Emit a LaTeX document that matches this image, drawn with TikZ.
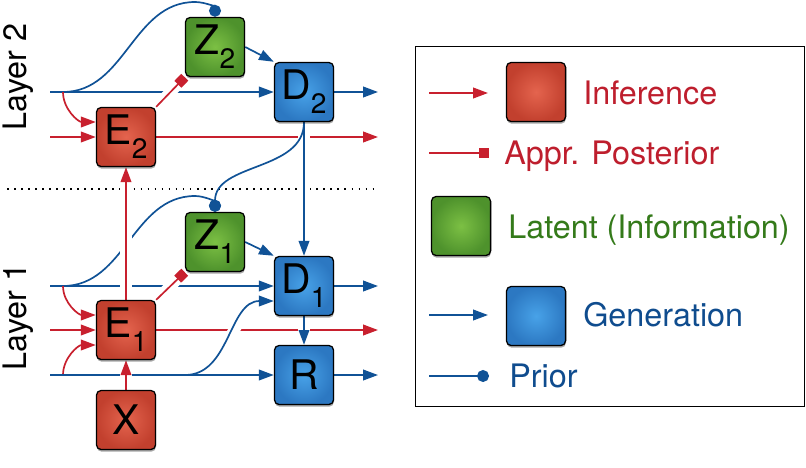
\documentclass[tikz,border=0pt]{standalone}
\usepackage{fontspec}
\setmainfont{TeX Gyre Heros}
\usepackage{xcolor}
\usepackage{tikz}
\usetikzlibrary{arrows.meta, shadows, backgrounds}

\definecolor{infred}{RGB}{200,32,46}
\definecolor{genblue}{RGB}{16,82,150}
\definecolor{infin}{RGB}{228,100,78}
\definecolor{infout}{RGB}{194,64,46}
\definecolor{latin}{RGB}{124,192,68}
\definecolor{latout}{RGB}{78,146,44}
\definecolor{genin}{RGB}{72,162,232}
\definecolor{genout}{RGB}{44,120,194}
\definecolor{inftext}{RGB}{190,30,45}
\definecolor{lattext}{RGB}{52,122,26}
\definecolor{gentext}{RGB}{15,76,142}

\newcommand{\lsub}[1]{\raisebox{-10pt}{\fontsize{20}{20}\selectfont #1}}

\begin{document}
\begin{tikzpicture}[
    x=0.025cm, y=0.025cm,
    font=\fontsize{23}{27}\selectfont,
    block/.style={rectangle, draw=black, line width=0.9pt, rounded corners=3.5pt,
        minimum size=1.48cm, inner sep=0pt, font=\fontsize{29}{32}\selectfont,
        drop shadow={shadow xshift=0.3pt, shadow yshift=-1.5pt, opacity=0.35, fill=black}},
    inf_block/.style={block, shading=radial, inner color=infin, outer color=infout},
    lat_block/.style={block, shading=radial, inner color=latin, outer color=latout},
    gen_block/.style={block, shading=radial, inner color=genin, outer color=genout},
    inf/.style={draw=infred, line width=1.2pt, -{Triangle[length=10.5pt, width=7.5pt]}},
    gen/.style={draw=genblue, line width=1.2pt, -{Triangle[length=10.5pt, width=7.5pt]}},
    post/.style={draw=infred, line width=1.2pt, -{Square[length=7pt]}},
    prior/.style={draw=genblue, line width=1.2pt, -{Circle[length=8.5pt]}},
    bridge/.style={preaction={draw=white, line width=8pt, -}},
    lbl/.style={anchor=base west, inner sep=0pt}
]
    \useasboundingbox (0,0) rectangle (806,-467);

    % --- 1. Layer 2 ---
    \node[lat_block] (Z2) at (215,-47) {Z\lsub{2}};
    \node[gen_block] (D2) at (304,-92) {D\lsub{2}};
    \node[inf_block] (E2) at (126,-137) {E\lsub{2}};

    % --- 2. Layer 1 ---
    \node[lat_block] (Z1) at (215,-242) {Z\lsub{1}};
    \node[gen_block] (D1) at (304,-286) {D\lsub{1}};
    \node[inf_block] (E1) at (126,-330) {E\lsub{1}};
    \node[gen_block] (R) at (304,-375) {R};
    \node[inf_block] (X) at (126,-420) {X};

    % --- 3. Layer names ---
    \node[rotate=90, anchor=base, inner sep=0pt] (layer2) at (26,-77) {Layer 2};
    \node[rotate=90, anchor=base, inner sep=0pt] (layer1) at (26,-317) {Layer 1};

    % --- 4. Free ends ---
    \coordinate (s2) at (50,-92);
    \coordinate (b2) at (63,-92);
    \coordinate (in2) at (50,-137);
    \coordinate (top2) at (195,-2);
    \coordinate (o2a) at (378,-92);
    \coordinate (o2b) at (378,-137);
    \coordinate (s1) at (50,-286);
    \coordinate (b1) at (63,-286);
    \coordinate (in1) at (50,-330);
    \coordinate (top1) at (195,-196);
    \coordinate (s0) at (50,-375);
    \coordinate (b0) at (63,-375);
    \coordinate (c0) at (185,-375);
    \coordinate (o1a) at (378,-286);
    \coordinate (o1b) at (378,-330);
    \coordinate (o0) at (378,-375);
    \coordinate (dl) at (7,-189);
    \coordinate (dr) at (375,-189);

    % --- 5. Connections ---
    \begin{scope}[on background layer]
        \draw[line width=1pt, dash pattern=on 1.2pt off 3.8pt] (dl) -- (dr);

        % layer 2
        \draw[gen] (s2) -- (D2.west);
        \draw[prior] (b2) to[out=0, in=180] (top2) to[out=0, in=90] (Z2.north);
        \draw[inf] (b2) to[out=-90, in=180] ([yshift=0.375cm]E2.west);
        \draw[inf] (in2) -- (E2.west);
        \draw[inf] (E2.east) -- (o2b);
        \draw[post, bridge] (E2.north east) -- (Z2.south west);
        \draw[gen] (Z2.east) -- (D2.north west);
        \draw[gen] (D2.east) -- (o2a);
        \draw[gen, bridge] (D2.south) -- (D1.north);
        \draw[prior] (D2.south) to[out=-90, in=90] (Z1.north);

        % layer 1
        \draw[gen] (s1) -- (D1.west);
        \draw[prior] (b1) to[out=0, in=180] (top1) to[out=0, in=90] (Z1.north);
        \draw[inf] (b1) to[out=-90, in=180] ([yshift=0.375cm]E1.west);
        \draw[inf] (in1) -- (E1.west);
        \draw[inf] (b0) to[out=90, in=180] ([yshift=-0.375cm]E1.west);
        \draw[inf] (E1.east) -- (o1b);
        \draw[gen, bridge] (c0) to[out=0, in=180] ([yshift=-0.375cm]D1.west);
        \draw[gen] (s0) -- (R.west);
        \draw[inf, bridge] (E1.north) -- (E2.south);
        \draw[post, bridge] (E1.north east) -- (Z1.south west);
        \draw[gen] (Z1.east) -- (D1.north west);
        \draw[gen] (D1.east) -- (o1a);
        \draw[gen, bridge] (D1.south) -- (R.north);
        \draw[gen] (R.east) -- (o0);
        \draw[inf, bridge] (X.north) -- (E1.south);
    \end{scope}

    % --- 6. Legend ---
    \node[draw, line width=0.7pt, minimum width=9.7cm, minimum height=8.975cm, inner sep=0pt] (legend) at (610,-226.5) {};

    \coordinate (leg_inf_a) at (429,-93);
    \coordinate (leg_inf_b) at (488,-93);
    \coordinate (leg_post_a) at (429,-153);
    \coordinate (leg_post_b) at (489,-153);
    \coordinate (leg_gen_a) at (429,-315);
    \coordinate (leg_gen_b) at (488,-315);
    \coordinate (leg_prior_a) at (429,-376);
    \coordinate (leg_prior_b) at (489,-376);

    \draw[inf] (leg_inf_a) -- (leg_inf_b);
    \node[inf_block] (leg_inf) at (536,-92) {};
    \node[lbl, text=inftext] (leg_inf_txt) at (583,-104) {Inference};

    \draw[post] (leg_post_a) -- (leg_post_b);
    \node[lbl, text=inftext] (leg_post_txt) at (504,-164) {Appr. Posterior};

    \node[lat_block] (leg_lat) at (461,-226) {};
    \node[lbl, text=lattext] (leg_lat_txt) at (508,-238) {Latent (Information)};

    \draw[gen] (leg_gen_a) -- (leg_gen_b);
    \node[gen_block] (leg_gen) at (536,-316) {};
    \node[lbl, text=gentext] (leg_gen_txt) at (583,-326) {Generation};

    \draw[prior] (leg_prior_a) -- (leg_prior_b);
    \node[lbl, text=gentext] (leg_prior_txt) at (509,-387) {Prior};

\end{tikzpicture}
\end{document}
